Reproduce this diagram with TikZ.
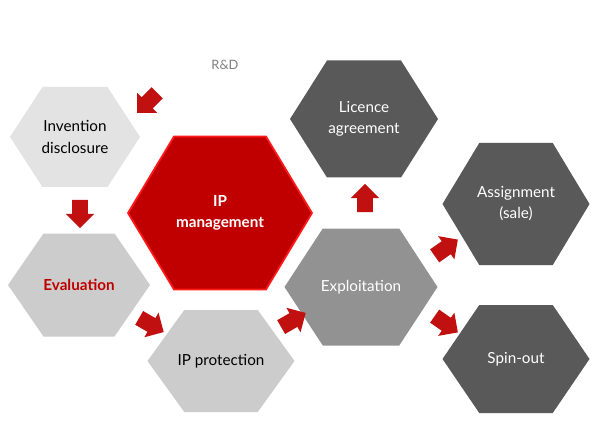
\documentclass[tikz,border=0pt]{standalone}
\usepackage{fontspec}
\setmainfont{Lato}
\usetikzlibrary{shapes.arrows}
\definecolor{ipred}{HTML}{C00000}
\definecolor{arrred}{HTML}{C0100F}
\newcommand{\hexa}[7]{%
  \fill[#5] ({#1-#3/2},#2) -- ({#1-#3/4},{#2-#4/2}) -- ({#1+#3/4},{#2-#4/2})
    -- ({#1+#3/2},#2) -- ({#1+#3/4},{#2+#4/2}) -- ({#1-#3/4},{#2+#4/2}) -- cycle;
  \node[lbl] (#6) at (#1,#2) {#7};}
\begin{document}
\begin{tikzpicture}[x=0.03cm, y=-0.03cm,
    lbl/.style={align=center, font=\fontsize{13}{18}\selectfont, text=white},
    blk/.style={single arrow, fill=arrred, minimum height=0.85cm, minimum width=0.85cm,
      single arrow head extend=0.1cm, inner sep=0.12cm}
]
\useasboundingbox (0,0) rectangle (600,430);

% hexagons
\hexa{75}{137}{130}{100}{gray!22}{inv}{\textcolor{black}{Invention}\\\textcolor{black}{disclosure}}
\hexa{79}{285}{142}{103}{gray!40}{eval}{\textcolor{ipred}{\bfseries Evaluation}}
\hexa{220}{213}{184}{153}{ipred, draw=red!90, line width=1.5pt}{ipm}{\bfseries IP\\\bfseries management}
\hexa{221}{361}{147}{102}{gray!40}{prot}{\textcolor{black}{IP protection}}
\hexa{361}{287}{153}{117}{gray!45!black!55}{expl}{Exploitation}
\hexa{364}{119}{148}{117}{gray!70!black}{lic}{Licence\\agreement}
\hexa{516}{204}{147}{122}{gray!70!black}{assign}{Assignment\\(sale)}
\hexa{516}{359}{147}{108}{gray!70!black}{spin}{Spin-out}

\node[text=gray, font=\fontsize{11}{13}\selectfont] (rd) at (225,65) {R\&D};

% arrows
\node[blk, rotate=-135] (a1) at (150,100) {};
\node[blk, rotate=-90] (a2) at (80,210) {};
\node[blk, rotate=-30] (a3) at (148,323) {};
\node[blk, rotate=30] (a4) at (290,322) {};
\node[blk, rotate=90] (a5) at (365,202) {};
\node[blk, rotate=35] (a6) at (443,250) {};
\node[blk, rotate=-35] (a7) at (443,322) {};
\end{tikzpicture}
\end{document}
